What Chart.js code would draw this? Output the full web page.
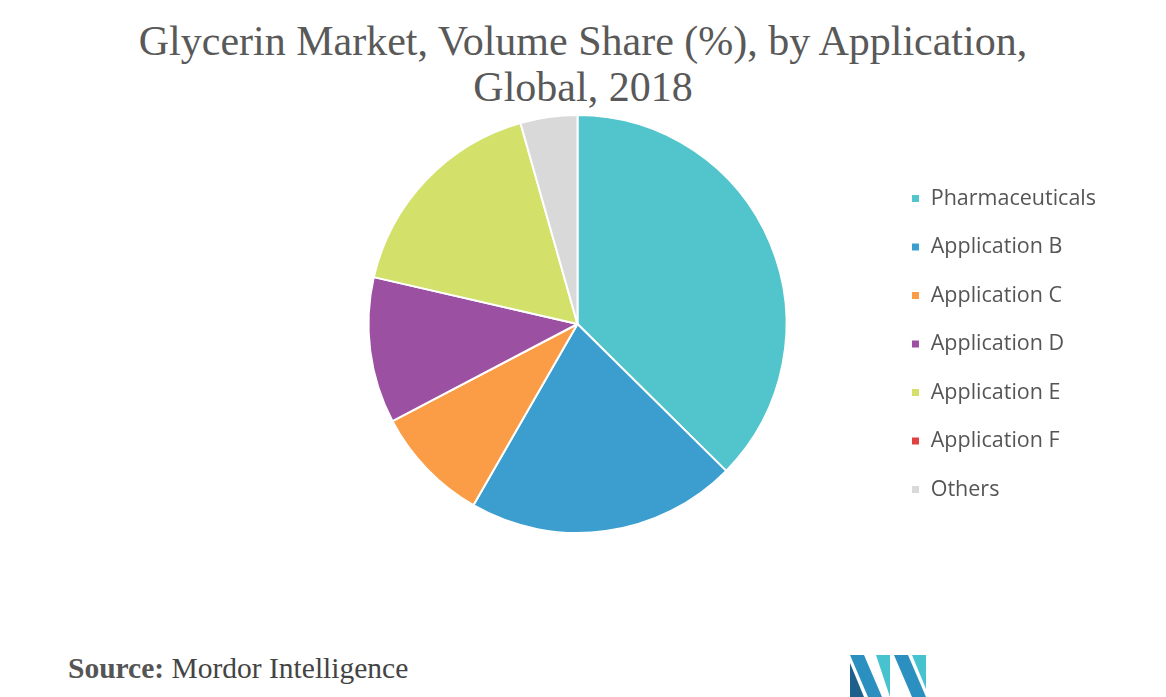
<!DOCTYPE html>
<html><head><meta charset="utf-8">
<script src="https://cdn.jsdelivr.net/npm/chart.js@4"></script>
<style>
body{margin:0;width:1166px;height:697px;background:#fff;position:relative;overflow:hidden}
#title{position:absolute;top:18px;left:0;width:1166px;text-align:center;font-family:"Liberation Serif",serif;font-size:42px;line-height:46px;color:#595959}
#wrap{position:absolute;left:0;top:112px;width:1166px;height:424px}
#src{position:absolute;left:68px;top:652px;font-family:"Liberation Serif",serif;font-size:29.5px;color:#444}
#src b{color:#555}
#logo{position:absolute;left:850px;top:655px}
</style></head><body>
<div id="title">Glycerin Market, Volume Share (%), by Application,<br>Global, 2018</div>
<div id="wrap"><canvas id="c"></canvas></div>
<div id="src"><b>Source:</b> Mordor Intelligence</div>
<svg id="logo" width="76" height="42" viewBox="0 0 76 42">
<polygon points="0,0 14,0 32,42 18,42" fill="#2b8fc0"/>
<polygon points="0,8 0,42 14,42" fill="#1f5f8b"/>
<polygon points="26,0 40,0 40,42" fill="#46c3cf"/>
<polygon points="44,0 58,0 76,42 62,42" fill="#2b8fc0"/>
<polygon points="62,0 76,0 76,34" fill="#46c3cf"/>
</svg>
<script>
const categories=["Pharmaceuticals","Application B","Application C","Application D","Application E","Application F","Others"];
const shares=[37.4,20.9,9.0,11.3,17.0,0,4.4];
const colors=["#52c4cb","#3b9ecf","#fb9d47","#9b50a1","#d3e06a","#e04040","#d9d9d9"];
new Chart(document.getElementById('c'),{type:'pie',
data:{labels:categories,datasets:[{data:shares,backgroundColor:colors,borderColor:'#fff',borderWidth:2}]},
options:{responsive:true,maintainAspectRatio:false,animation:false,
layout:{padding:{left:271,right:60,top:2,bottom:2}},
plugins:{tooltip:{enabled:false},legend:{position:'right',align:'center',
title:{display:true,text:' ',font:{size:10},padding:{top:14,bottom:14}},
labels:{boxWidth:9,boxHeight:9,padding:27,color:'#555',font:{family:'Open Sans',size:21.5}}}}}});
</script></body></html>
